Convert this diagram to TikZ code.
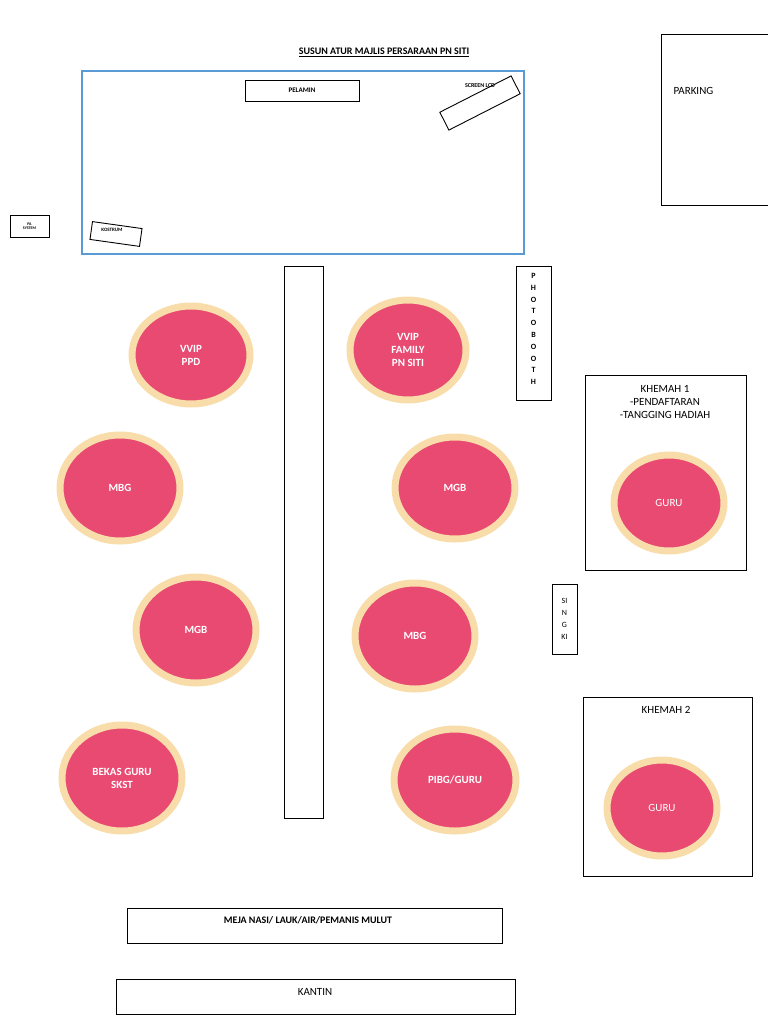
\documentclass[tikz,border=0pt]{standalone}
\usepackage{fontspec}
\setmainfont{Carlito}
\usetikzlibrary{shapes.geometric}
\begin{document}
\begin{tikzpicture}[x=1pt,y=-1pt,
  box/.style={draw=black,line width=0.9pt,inner sep=0pt},
  tbl/.style={ellipse,draw=tblring,line width=7pt,fill=tblfill,text=white,font=\bfseries\fontsize{11}{13}\selectfont,align=center,inner sep=0pt},
  lab/.style={font=\fontsize{11}{13}\selectfont,align=center}]
\definecolor{tblfill}{HTML}{E84A72}
\definecolor{tblring}{HTML}{F8DDAA}
\definecolor{hall}{HTML}{5B9BD5}
\useasboundingbox (0,0) rectangle (768,1024);
\node[font=\bfseries\fontsize{10}{12}\selectfont] (title) at (384,52) {\underline{SUSUN ATUR MAJLIS PERSARAAN PN SITI}};
\draw[hall,line width=1.5pt] (82,71) rectangle (524,254);
\draw[box] (245,80) rectangle (359,101);
\node[font=\bfseries\fontsize{7}{8}\selectfont] (pelamin) at (302,90.5) {PELAMIN};
\draw[box,rotate around={27:(480,103)}] (440,93) rectangle (520,113);
\node[font=\bfseries\fontsize{6}{7}\selectfont] (lcd) at (480,86) {SCREEN LCD};
\draw[box,rotate around={-8:(116,234)}] (91,225) rectangle (141,243);
\node[font=\bfseries\fontsize{5}{6}\selectfont] (kostrum) at (112,230) {KOSTRUM};
\draw[box] (10,215) rectangle (49,237);
\node[font=\bfseries\fontsize{4}{4.5}\selectfont,align=center] (pa) at (29.5,226) {PA\\SYSTEM};
\draw[box] (661,34) -- (768,34) (661,34) -- (661,205) -- (768,205);
\node[lab,anchor=west] (parking) at (670,91) {PARKING};
\draw[box] (284,266) rectangle (323,818);
\draw[box] (516,266) rectangle (551,400);
\node[font=\bfseries\fontsize{8}{11.8}\selectfont,align=center] (photo) at (533.5,329) {P\\H\\O\\T\\O\\B\\O\\O\\T\\H};
\draw[box] (585,375) rectangle (746,570);
\node[lab] (k1) at (665,402) {KHEMAH 1\\-PENDAFTARAN\\-TANGGING HADIAH};
\draw[box] (552,584) rectangle (577,654);
\node[font=\fontsize{8}{12}\selectfont,align=center] (singki) at (564.5,619) {SI\\N\\G\\KI};
\draw[box] (583,697) rectangle (752,876);
\node[lab] (k2) at (666,710) {KHEMAH 2};
\node[tbl,minimum width=118pt,minimum height=98pt] (t1) at (191,355) {VVIP\\PPD};
\node[tbl,minimum width=116pt,minimum height=100pt] (t2) at (408,350) {VVIP\\FAMILY\\PN SITI};
\node[tbl,minimum width=120pt,minimum height=106pt] (t3) at (120,488) {MBG};
\node[tbl,minimum width=120pt,minimum height=102pt] (t4) at (455,488) {MGB};
\node[tbl,minimum width=120pt,minimum height=106pt] (t5) at (196,630) {MGB};
\node[tbl,minimum width=120pt,minimum height=106pt] (t6) at (415,636) {MBG};
\node[tbl,minimum width=120pt,minimum height=106pt] (t7) at (122,778) {BEKAS GURU\\SKST};
\node[tbl,minimum width=122pt,minimum height=102pt] (t8) at (455,780) {PIBG/GURU};
\node[tbl,minimum width=110pt,minimum height=96pt,font=\fontsize{11}{13}\selectfont] (t9) at (669,503) {GURU};
\node[tbl,minimum width=110pt,minimum height=96pt,font=\fontsize{11}{13}\selectfont] (t10) at (662,808) {GURU};
\draw[box] (127,908) rectangle (502,943);
\node[font=\bfseries\fontsize{10}{12}\selectfont] (meja) at (308,920) {MEJA NASI/ LAUK/AIR/PEMANIS MULUT};
\draw[box] (116,979) rectangle (515,1014);
\node[lab] (kantin) at (315,992) {KANTIN};
\end{tikzpicture}
\end{document}
